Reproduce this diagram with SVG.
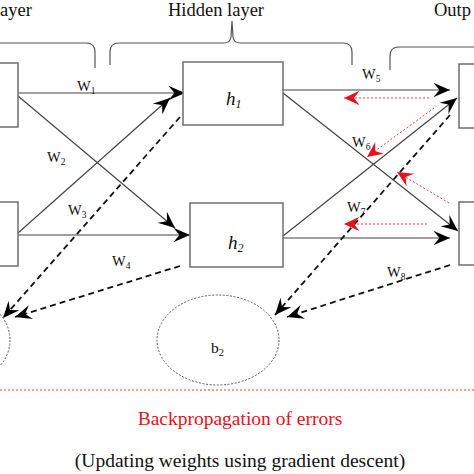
<svg xmlns="http://www.w3.org/2000/svg" width="474" height="474" viewBox="0 0 474 474">
<defs>
<style>
text{font-family:"Liberation Serif","Times New Roman",serif;fill:#111}
.hdr{font-size:19.5px}
.top{font-size:18.5px}
.w{font-size:14.5px}
.sub{font-size:9.5px}
.box{fill:#fff;stroke:#6e6e6e;stroke-width:1.5}
.sol{stroke:#444;stroke-width:1.2;fill:none}
.dash{stroke:#111;stroke-width:1.8;stroke-dasharray:6 4;fill:none}
.red{stroke:#e8393f;stroke-width:1;stroke-dasharray:2 2;fill:none}
.brace{stroke:#555;stroke-width:1.2;fill:none}
.ell{fill:none;stroke:#555;stroke-width:1;stroke-dasharray:2 1.6}
.hl{font-size:19px;font-style:italic}
.hs{font-size:12px;font-style:italic}
</style>
<marker id="ab" markerUnits="userSpaceOnUse" markerWidth="20" markerHeight="20" viewBox="-16 -8 18 16" refX="0" refY="0" orient="auto">
<path d="M0,0 L-15,-6.5 L-9.5,0 L-15,6.5 Z" fill="#000"/>
</marker>
<marker id="ar" markerUnits="userSpaceOnUse" markerWidth="20" markerHeight="20" viewBox="-16 -8 18 16" refX="0" refY="0" orient="auto">
<path d="M0,0 L-14,-6.5 L-9,0 L-14,6.5 Z" fill="#e8101c"/>
</marker>
</defs>
<rect width="474" height="474" fill="#fff"/>

<g id="headers">
<text class="top" x="0" y="16">ayer</text>
<text class="top" x="216" y="16" text-anchor="middle">Hidden layer</text>
<text class="top" x="434" y="16">Outp</text>
<path class="brace" d="M-10,43 L86,43 Q95,43 95,52 L95,68"/>
<path class="brace" d="M110,65 L110,52 Q110,43 119,43 L224,43 Q230,43 231,37 L232,21 L233,37 Q234,43 240,43 L343,43 Q352,43 352,52 L352,65"/>
<path class="brace" d="M390,70 L390,56 Q390,47 399,47 L480,47"/>
</g>

<g id="connectors">
<line class="sol" x1="18" y1="93" x2="185" y2="93" marker-end="url(#ab)"/>
<line class="sol" x1="18" y1="96" x2="175" y2="228" marker-end="url(#ab)"/>
<line class="sol" x1="18" y1="233" x2="170" y2="98" marker-end="url(#ab)"/>
<line class="sol" x1="18" y1="235" x2="190" y2="235" marker-end="url(#ab)"/>
<line class="sol" x1="283" y1="90" x2="450" y2="90" marker-end="url(#ab)"/>
<line class="sol" x1="283" y1="93" x2="458" y2="231" marker-end="url(#ab)"/>
<line class="sol" x1="283" y1="236" x2="457" y2="98" marker-end="url(#ab)"/>
<line class="sol" x1="283" y1="238" x2="450" y2="238" marker-end="url(#ab)"/>

<line class="dash" x1="180" y1="117" x2="3" y2="318" marker-end="url(#ab)"/>
<line class="dash" x1="180" y1="266" x2="15" y2="317" marker-end="url(#ab)"/>
<line class="dash" x1="450" y1="115" x2="275" y2="315" marker-end="url(#ab)"/>
<line class="dash" x1="450" y1="265" x2="287" y2="317" marker-end="url(#ab)"/>

<line class="red" x1="429" y1="98" x2="344" y2="98" marker-end="url(#ar)"/>
<line class="red" x1="434" y1="108" x2="367" y2="157" marker-end="url(#ar)"/>
<line class="red" x1="449" y1="203" x2="397" y2="172" marker-end="url(#ar)"/>
<line class="red" x1="427" y1="224" x2="344" y2="224" marker-end="url(#ar)"/>
</g>

<g id="input1"><rect class="box" x="-2" y="63" width="20" height="64"/></g>
<g id="input2"><rect class="box" x="-2" y="202" width="20" height="64"/></g>
<g id="h1"><rect class="box" x="183" y="62" width="100" height="63"/>
<text x="226" y="105"><tspan class="hl">h</tspan><tspan class="hs" dy="3">1</tspan></text></g>
<g id="h2"><rect class="box" x="190" y="203" width="93" height="64"/>
<text x="228" y="249"><tspan class="hl">h</tspan><tspan class="hs" dy="3">2</tspan></text></g>
<g id="output1"><rect class="box" x="459" y="64" width="20" height="64"/></g>
<g id="output2"><rect class="box" x="459" y="202" width="20" height="63"/></g>

<g id="b1"><ellipse class="ell" cx="-30" cy="340" rx="40" ry="39"/></g>
<g id="b2"><ellipse class="ell" cx="218" cy="340" rx="61" ry="45"/>
<text x="211" y="353" font-size="15.5">b<tspan font-size="10.5" dy="3">2</tspan></text></g>

<g id="weights">
<text class="w" x="77" y="91">W<tspan class="sub" dy="3">1</tspan></text>
<text class="w" x="47" y="162">W<tspan class="sub" dy="3">2</tspan></text>
<text class="w" x="68" y="215">W<tspan class="sub" dy="3">3</tspan></text>
<text class="w" x="112" y="266">W<tspan class="sub" dy="3">4</tspan></text>
<text class="w" x="362" y="79">W<tspan class="sub" dy="3">5</tspan></text>
<text class="w" x="352" y="147">W<tspan class="sub" dy="3">6</tspan></text>
<text class="w" x="347" y="212">W<tspan class="sub" dy="3">7</tspan></text>
<text class="w" x="387" y="277">W<tspan class="sub" dy="3">8</tspan></text>
</g>

<line class="red" x1="0" y1="390" x2="474" y2="390"/>
<text class="hdr" x="240" y="425" text-anchor="middle" style="fill:#e8101c">Backpropagation of errors</text>
<text class="hdr" x="240" y="467" text-anchor="middle">(Updating weights using gradient descent)</text>
</svg>
